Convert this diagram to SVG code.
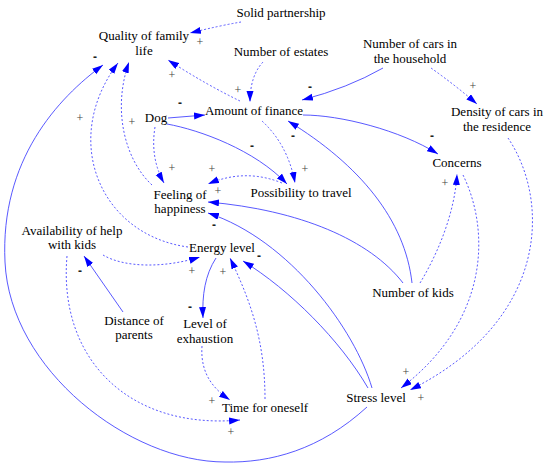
<svg xmlns="http://www.w3.org/2000/svg" width="550" height="468" viewBox="0 0 550 468">
<defs>
<marker id="ah" markerUnits="userSpaceOnUse" markerWidth="12" markerHeight="8" refX="11" refY="3.5" orient="auto">
<path d="M0,0 L11,3.5 L0,7 z" fill="#0000ff"/>
</marker>
<style>
.n{font-family:"Liberation Serif","Times New Roman",serif;font-size:13px;fill:#000;text-anchor:middle}
.s{fill:none;stroke:#4646ff;stroke-width:0.9;marker-end:url(#ah)}
.d{fill:none;stroke:#4646ff;stroke-width:0.9;stroke-dasharray:2 2;marker-end:url(#ah)}
.p{font-family:"Liberation Serif","Times New Roman",serif;font-size:12px;fill:#444;text-anchor:middle}
.m{font-family:"Liberation Sans",Arial,sans-serif;font-size:12px;font-weight:bold;fill:#222;text-anchor:middle}
</style>
</defs>
<rect width="550" height="468" fill="#fff"/>
<g id="connectors">
<path class="d" d="M241,22 Q218,26 190,33"/>
<path class="d" d="M263,62 Q250,76 250,102"/>
<path class="d" d="M240,101 Q205,84 168,60"/>
<path class="s" d="M383,68 Q348,88 302,100"/>
<path class="d" d="M431,68 Q455,85 477,104"/>
<path class="s" d="M168,118 L205,115"/>
<path class="s" d="M167,124 C200,130 255,150 287,184"/>
<path class="d" d="M262,121 Q288,145 295,183"/>
<path class="d" d="M282,183 Q245,168 208,184"/>
<path class="d" d="M155,127 Q150,158 164,183"/>
<path class="d" d="M152,185 C125,160 112,110 129,62"/>
<path class="d" d="M188,247 C100,235 60,140 118,63"/>
<path class="s" d="M367,407 C320,450 270,463 225,462 C130,462 10,370 5,262 C0,160 58,98 103,65"/>
<path class="s" d="M403,283 C370,240 300,210 208,202"/>
<path class="s" d="M412,283 C405,220 360,165 288,121"/>
<path class="d" d="M420,283 C440,250 455,210 457,174"/>
<path class="s" d="M303,115 C340,115 400,130 438,154"/>
<path class="d" d="M463,175 C490,230 490,320 401,388"/>
<path class="d" d="M508,138 C550,200 550,320 410,390"/>
<path class="s" d="M372,388 C355,330 290,240 208,213"/>
<path class="s" d="M368,388 C340,340 290,290 243,261"/>
<path class="s" d="M216,258 C205,275 202,295 203,318"/>
<path class="d" d="M202,346 C200,375 215,390 230,400"/>
<path class="d" d="M265,399 C265,340 250,300 230,258"/>
<path class="d" d="M103,255 C125,268 165,268 200,257"/>
<path class="s" d="M123,312 L84,256"/>
<path class="d" d="M67,256 C58,360 130,430 240,420"/>
</g>
<g id="labels">
<text class="p" x="200" y="46">+</text>
<text class="p" x="238" y="94">+</text>
<text class="p" x="172" y="79">+</text>
<text class="m" x="310" y="91">-</text>
<text class="p" x="473" y="90">+</text>
<text class="m" x="180" y="107">-</text>
<text class="m" x="252" y="150">-</text>
<text class="p" x="305" y="173">+</text>
<text class="m" x="293" y="140">-</text>
<text class="m" x="432" y="140">-</text>
<text class="p" x="172" y="172">+</text>
<text class="p" x="212" y="173">+</text>
<text class="p" x="218" y="195">+</text>
<text class="m" x="214" y="229">-</text>
<text class="m" x="259" y="260">-</text>
<text class="p" x="192" y="275">+</text>
<text class="p" x="223" y="276">+</text>
<text class="m" x="95" y="61">-</text>
<text class="p" x="80" y="122">+</text>
<text class="p" x="132" y="126">+</text>
<text class="m" x="80" y="275">-</text>
<text class="m" x="190" y="311">-</text>
<text class="p" x="212" y="405">+</text>
<text class="p" x="231" y="436">+</text>
<text class="p" x="445" y="187">+</text>
<text class="p" x="406" y="376">+</text>
<text class="p" x="421" y="402">+</text>
</g>
<g id="solid-partnership"><text class="n" x="281" y="17">Solid partnership</text></g>
<g id="quality-of-family-life"><text class="n" x="144" y="40">Quality of family</text><text class="n" x="144" y="55">life</text></g>
<g id="number-of-estates"><text class="n" x="281" y="56">Number of estates</text></g>
<g id="number-of-cars"><text class="n" x="410" y="48">Number of cars in</text><text class="n" x="410" y="63">the household</text></g>
<g id="amount-of-finance"><text class="n" x="254" y="115">Amount of finance</text></g>
<g id="dog"><text class="n" x="156" y="122">Dog</text></g>
<g id="density-of-cars"><text class="n" x="497" y="116">Density of cars in</text><text class="n" x="497" y="131">the residence</text></g>
<g id="concerns"><text class="n" x="457" y="167">Concerns</text></g>
<g id="possibility-to-travel"><text class="n" x="301" y="197">Possibility to travel</text></g>
<g id="feeling-of-happiness"><text class="n" x="180" y="199">Feeling of</text><text class="n" x="180" y="213">happiness</text></g>
<g id="energy-level"><text class="n" x="222" y="252">Energy level</text></g>
<g id="availability-of-help"><text class="n" x="72" y="235">Availability of help</text><text class="n" x="72" y="249">with kids</text></g>
<g id="number-of-kids"><text class="n" x="413" y="297">Number of kids</text></g>
<g id="distance-of-parents"><text class="n" x="134" y="325">Distance of</text><text class="n" x="134" y="339">parents</text></g>
<g id="level-of-exhaustion"><text class="n" x="205" y="328">Level of</text><text class="n" x="205" y="343">exhaustion</text></g>
<g id="time-for-oneself"><text class="n" x="265" y="412">Time for oneself</text></g>
<g id="stress-level"><text class="n" x="376" y="402">Stress level</text></g>
</svg>
